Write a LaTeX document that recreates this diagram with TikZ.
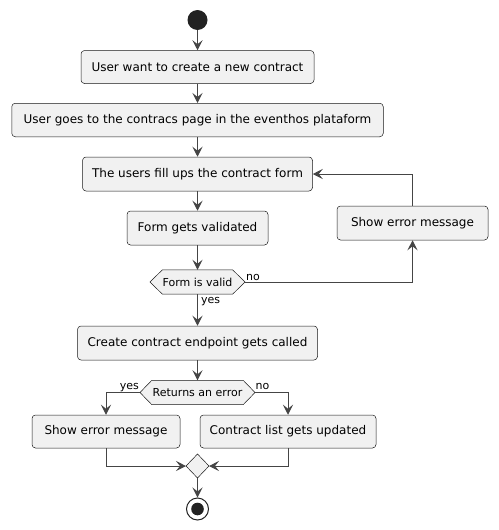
\documentclass[tikz,border=0pt]{standalone}
\usepackage{fontspec}
\setmainfont{DejaVu Sans}
\usetikzlibrary{arrows.meta,backgrounds}
\definecolor{boxfill}{HTML}{F1F1F1}
\definecolor{boxline}{HTML}{181818}
\definecolor{arrowcol}{HTML}{454545}
\definecolor{dotcol}{HTML}{222222}
\tikzset{
  actbox/.style={draw=boxline, line width=0.5pt, fill=boxfill, rounded corners=3.5pt,
    inner sep=0pt, font=\fontsize{12}{14}\selectfont, text=black},
  hexin/.style={inner sep=0pt, minimum height=24pt, font=\fontsize{11}{13}\selectfont, text=black},
  hexline/.style={draw=boxline, line width=0.5pt, fill=boxfill},
  flow/.style={draw=arrowcol, line width=1pt, -{Stealth[length=10pt,width=10pt,inset=4pt]}},
  lbl/.style={inner sep=0pt, font=\fontsize{11}{13}\selectfont, text=black},
}
\begin{document}
\begin{tikzpicture}[x=1pt,y=-1pt]
\useasboundingbox (0,0) rectangle (498,530);
% start
\node[circle, fill=dotcol, minimum size=20pt, inner sep=0pt] (start) at (197.5,20) {};
% boxes
\node[actbox, minimum width=233pt, minimum height=33pt] (b1) at (197.5,67) {User want to create a new contract};
\node[actbox, minimum width=371.5pt, minimum height=33.5pt] (b2) at (197.5,120) {User goes to the contracs page in the eventhos plataform};
\node[actbox, minimum width=230pt, minimum height=34pt] (b3) at (197.5,174) {The users fill ups the contract form};
\node[actbox, minimum width=141pt, minimum height=34pt] (b4) at (197.5,228) {Form gets validated};
\node[actbox, minimum width=151pt, minimum height=34pt] (se1) at (412.5,223) {Show error message};
% decision 1
\node[hexin, minimum width=69pt] (d1) at (197.5,282) {Form is valid};
\coordinate (d1l) at (150,282);
\coordinate (d1r) at (245,282);
\node[actbox, minimum width=240pt, minimum height=34pt] (b5) at (197.5,343) {Create contract endpoint gets called};
% decision 2
\node[hexin, minimum width=91pt] (d2) at (197.5,392.5) {Returns an error};
\coordinate (d2l) at (140,392.5);
\coordinate (d2r) at (255,392.5);
\node[actbox, minimum width=148pt, minimum height=33pt] (se2) at (106,431.5) {Show error message};
\node[actbox, minimum width=176pt, minimum height=33pt] (cl) at (288,431.5) {Contract list gets updated};
% merge
\coordinate (ml) at (186,466);
\coordinate (mr) at (209,466);
\coordinate (mt) at (197.5,454);
\coordinate (mb) at (197.5,478);
% end
\node[circle, draw=dotcol, line width=1pt, minimum size=22pt, inner sep=0pt] (fin) at (197.5,509) {};
\fill[dotcol] (fin.center) circle (6.3pt);
% hexagon outlines behind their texts
\begin{scope}[on background layer]
\path[hexline] (d1l) -- (d1.north west) -- (d1.north east) -- (d1r) -- (d1.south east) -- (d1.south west) -- cycle;
\path[hexline] (d2l) -- (d2.north west) -- (d2.north east) -- (d2r) -- (d2.south east) -- (d2.south west) -- cycle;
\end{scope}
\path[hexline] (ml) -- (mt) -- (mr) -- (mb) -- cycle;
% connectors
\draw[flow] (start) -- (b1);
\draw[flow] (b1) -- (b2);
\draw[flow] (b2) -- (b3);
\draw[flow] (b3) -- (b4);
\draw[flow] (b4) -- (d1.north);
\draw[flow] (d1r) -| (se1.south);
\draw[flow] (se1.north) |- (b3.east);
\draw[flow] (d1.south) -- (b5.north);
\draw[flow] (b5) -- (d2.north);
\draw[flow] (d2l) -| (se2.north);
\draw[flow] (d2r) -| (cl.north);
\draw[flow] (se2.south) |- (ml);
\draw[flow] (cl.south) |- (mr);
\draw[flow] (mb) -- (fin.north);
% labels
\node[lbl, anchor=base west] (l1) at (246,280) {no};
\node[lbl, anchor=base west] (l2) at (201,303) {yes};
\node[lbl, anchor=base east] (l3) at (139,389) {yes};
\node[lbl, anchor=base west] (l4) at (255.5,389) {no};
\end{tikzpicture}
\end{document}
